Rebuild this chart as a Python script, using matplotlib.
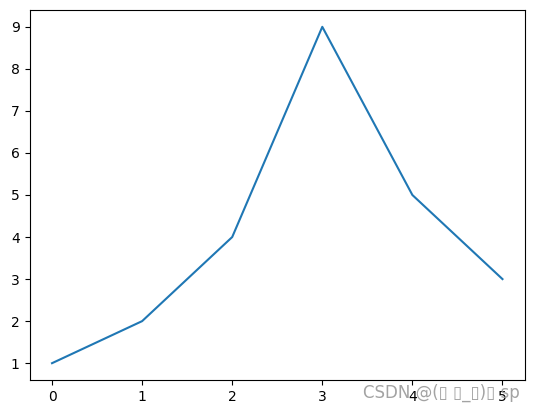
import matplotlib.pyplot as plt

x = [0, 1, 2, 3, 4, 5]
y = [1, 2, 4, 9, 5, 3]

fig = plt.figure(figsize=(5.34, 4.13), dpi=100)
ax = fig.add_axes([29.5 / 534, 1 - 380 / 413, (525 - 29.5) / 534, (380 - 10) / 413])
ax.plot(x, y)

# watermark
fig.text(363 / 534, 1 - 393 / 413, "CSDN @(\u25af \u25af_\u25af)\u25af sp",
         fontsize=12, color='#999999', alpha=0.9, va='center', ha='left')

fig.savefig('out.png', dpi=100)
